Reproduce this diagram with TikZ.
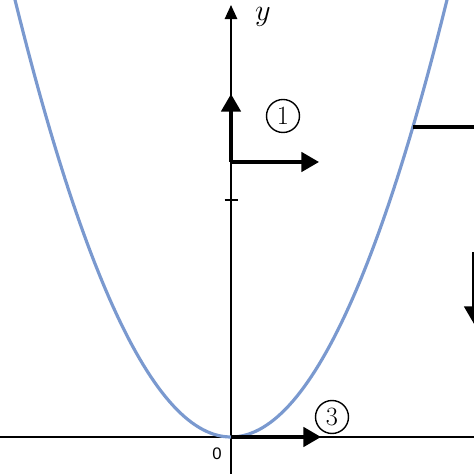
\documentclass[tikz,border=0pt]{standalone}
\usepackage{fontspec}
\newfontfamily\labelfont{Liberation Sans}
\usetikzlibrary{arrows.meta, positioning}
\definecolor{curveblue}{RGB}{122,153,207}

\begin{document}
\begin{tikzpicture}[
    axis/.style={line width=1.1pt},
    vec/.style={line width=2pt, -{Triangle[length=10pt, width=11pt]}},
    num/.style={circle, draw, line width=0.8pt, inner sep=0pt, minimum size=0.66cm, font=\fontsize{15}{15}\selectfont}
]
    \useasboundingbox (-4.62,-0.74) rectangle (4.86,8.74);
    \clip (-4.62,-0.74) rectangle (4.86,8.74);

    % axes
    \coordinate (O) at (0,0);
    \coordinate (xl) at (-4.62,0);
    \coordinate (xr) at (4.9,0);
    \coordinate (yb) at (0,-0.74);
    \coordinate (yt) at (0,8.64);
    \draw[axis] (xl) -- (xr);
    \draw[axis, -{Triangle[length=8pt, width=7pt]}] (yb) -- (yt);
    \draw[axis] (-0.13,4.74) -- (0.13,4.74);
    \node[font=\fontsize{17}{17}\selectfont, inner sep=0pt] (ylab) at (0.64,8.4) {$y$};
    \node[font=\labelfont\fontsize{9.5}{9.5}\selectfont] (zero) at (-0.28,-0.34) {0};

    % parabola
    \draw[curveblue, line width=1.8pt] plot[domain=-4.45:4.45, samples=120] (\x, {0.4685*\x*\x});

    % case 1
    \coordinate (c1) at (0,5.5);
    \coordinate (c1up) at (0,6.86);
    \coordinate (c1rt) at (1.76,5.5);
    \draw[vec] (c1) -- (c1up);
    \draw[vec] (c1) -- (c1rt);
    \node[num] (n1) at (1.04,6.42) {1};

    % case 2 (cut off at the right)
    \coordinate (c2) at (3.638,6.2);
    \coordinate (c2rt) at (5,6.2);
    \draw[line width=1.8pt] (c2) -- (c2rt);
    \coordinate (c2a) at (4.86,3.7);
    \coordinate (c2b) at (4.86,2.26);
    \draw[vec] (c2a) -- (c2b);

    % case 3
    \coordinate (c3rt) at (1.8,0);
    \draw[vec] (O) -- (c3rt);
    \node[num] (n3) at (2.02,0.4) {3};
\end{tikzpicture}
\end{document}
